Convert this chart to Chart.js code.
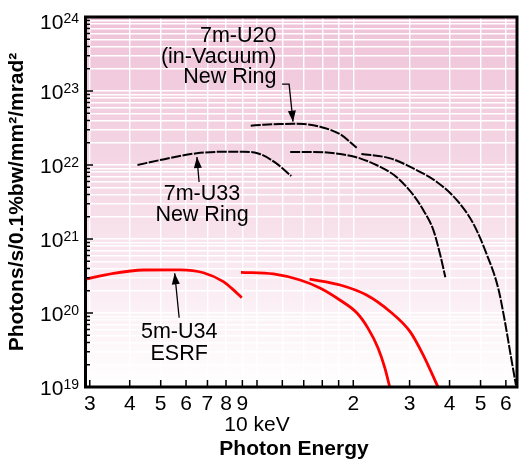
<!DOCTYPE html>
<html><head><meta charset="utf-8">
<script src="https://cdn.jsdelivr.net/npm/chart.js@4.4.1/dist/chart.umd.min.js"></script>
<style>html,body{margin:0;padding:0;background:#fff;overflow:hidden}</style>
</head><body>
<canvas id="c" width="529" height="464"></canvas>
<script>
// ---- axis data ----
const xTickValues = [3,4,5,6,7,8,9,10,12,14,16,18,20,30,40,50,60];
const xTickLabels = ['3','4','5','6','7','8','9','10 keV','','','','','2','3','4','5','6'];
const yExponents = [19,20,21,22,23,24];
const yMinorMultipliers = [1,2,3,4,5,6,7,8,9];
const xTitle = 'Photon Energy';
const yTitle = 'Photons/s/0.1%bw/mm²/mrad²';

// ---- series (keV, photons/s/0.1%bw/mm²/mrad²) ----
const u20aX = [9.56, 10.5, 11.8, 13.0, 14.0, 15.7, 18.2, 20.5];
const u20aY = [3.4e22, 3.5e22, 3.57e22, 3.6e22, 3.57e22, 3.3e22, 2.6e22, 1.71e22];
const u20bX = [21.2, 26.1, 30.8, 36.5, 42.1, 47.4, 52.2, 56.8, 59.6, 62.1, 64.5];
const u20bY = [1.41e22, 1.23e22, 9.0e21, 5.9e21, 3.37e21, 1.63e21, 6.3e20, 2.15e20, 7.6e19, 2.7e19, 1.06e19];
const u33aX = [4.23, 5.09, 6.48, 7.85, 9.06, 10.2, 11.5, 12.8];
const u33aY = [1.0e22, 1.19e22, 1.44e22, 1.51e22, 1.51e22, 1.41e22, 1.05e22, 7.1e21];
const u33bX = [12.7, 15.0, 18.2, 21.0, 25.4, 27.3, 30.8, 33.1, 35.6, 37.3, 38.8];
const u33bY = [1.5e22, 1.5e22, 1.41e22, 1.23e22, 8.5e21, 6.9e21, 3.94e21, 2.46e21, 1.32e21, 6.4e20, 3.05e20];
const u34aX = [2.9, 3.56, 4.41, 5.75, 6.8, 7.85, 8.34, 8.96];
const u34aY = [2.85e20, 3.44e20, 3.81e20, 3.83e20, 3.5e20, 2.65e20, 2.15e20, 1.61e20];
const u34bX = [8.91, 11.25, 13.63, 15.73, 18.15, 20.54, 22.2, 23.9, 25.1, 26.0];
const u34bY = [3.55e20, 3.37e20, 2.79e20, 2.18e20, 1.5e20, 1.0e20, 6.3e19, 3.37e19, 1.81e19, 1.0e19];
const u34cX = [14.6, 18.2, 22.0, 26.1, 30.1, 33.1, 36.8];
const u34cY = [2.88e20, 2.39e20, 1.75e20, 1.04e20, 5.6e19, 2.7e19, 1.0e19];

// ---- annotation texts ----
const u20Text = ['7m-U20', '(in-Vacuum)', 'New Ring'];
const u33Text = ['7m-U33', 'New Ring'];
const u34Text = ['5m-U34', 'ESRF'];

const FONT = '"Liberation Sans", Arial, Helvetica, sans-serif';
Chart.defaults.font.family = FONT;
Chart.defaults.color = '#000';

const pts = (xs, ys) => xs.map((x, i) => ({x, y: ys[i]}));
const yGridValues = [];
yExponents.forEach(e => {
  if (e === yExponents[yExponents.length - 1]) { yGridValues.push(Math.pow(10, e)); return; }
  yMinorMultipliers.forEach(m => yGridValues.push(m * Math.pow(10, e)));
});

const blackStyle = {borderColor: '#000', borderWidth: 2, borderDash: [10, 1.5], pointRadius: 0, showLine: true, cubicInterpolationMode: 'monotone', fill: false};
const redStyle = {borderColor: '#ff0000', borderWidth: 2.8, pointRadius: 0, showLine: true, cubicInterpolationMode: 'monotone', fill: false};

const annotations = [
  {lines: u20Text, x: 11.5, y: 5.5e23, align: 'right', step: 20.5,
   arrow: [[11.98, 1.24e23], [12.6, 1.24e23], [12.96, 3.85e22]]},
  {lines: u33Text, x: 6.73, y: 4.06e21, align: 'center', step: 21,
   arrow: [[6.59, 5.9e21], [6.49, 1.28e22]]},
  {lines: u34Text, x: 5.71, y: 5.53e19, align: 'center', step: 22,
   arrow: [[5.71, 8.63e19], [5.53, 3.44e20]]}
];

const deco = {
  id: 'deco',
  beforeDraw(chart) {
    const {ctx, chartArea: a} = chart;
    ctx.save();
    ctx.fillStyle = '#fff';
    ctx.fillRect(0, 0, chart.width, chart.height);
    const g = ctx.createLinearGradient(0, a.top, 0, a.bottom);
    g.addColorStop(0, 'rgb(239,195,217)');
    g.addColorStop(0.45, 'rgb(245,217,230)');
    g.addColorStop(1, 'rgb(255,255,255)');
    ctx.fillStyle = g;
    ctx.fillRect(a.left, a.top, a.right - a.left, a.bottom - a.top);
    ctx.restore();
  },
  afterDraw(chart) {
    const {ctx, chartArea: a, scales: {x, y}} = chart;
    ctx.save();
    // ticks inside
    ctx.strokeStyle = '#000';
    ctx.lineWidth = 1.5;
    ctx.beginPath();
    xTickValues.forEach(v => {
      const px = x.getPixelForValue(v);
      ctx.moveTo(px, a.bottom); ctx.lineTo(px, a.bottom - 7);
    });
    yGridValues.forEach(v => {
      const py = y.getPixelForValue(v);
      const major = Math.abs(Math.log10(v) - Math.round(Math.log10(v))) < 1e-9;
      ctx.moveTo(a.left, py); ctx.lineTo(a.left + (major ? 7 : 4), py);
    });
    ctx.stroke();
    // frame
    ctx.lineWidth = 3;
    ctx.strokeRect(a.left - 0.5, a.top, a.right - a.left + 0.5, a.bottom - a.top);
    // y labels
    ctx.fillStyle = '#000';
    ctx.textBaseline = 'alphabetic';
    ctx.textAlign = 'right';
    yExponents.forEach(e => {
      let py = y.getPixelForValue(Math.pow(10, e));
      py = Math.max(py, a.top + 4);
      const sup = String(e);
      ctx.font = '14px ' + FONT;
      const sw = ctx.measureText(sup).width;
      const rx = a.left - 7;
      ctx.fillText(sup, rx, py + 2);
      ctx.font = '21px ' + FONT;
      ctx.fillText('10', rx - sw, py + 8);
    });
    // x title
    ctx.font = 'bold 21px ' + FONT;
    ctx.textAlign = 'center';
    ctx.textBaseline = 'middle';
    ctx.fillText(xTitle, x.getPixelForValue(13.05), a.bottom + 62);
    // annotations
    ctx.font = '21.5px ' + FONT;
    annotations.forEach(an => {
      const px = x.getPixelForValue(an.x);
      const py = y.getPixelForValue(an.y);
      ctx.textAlign = an.align;
      an.lines.forEach((t, i) => ctx.fillText(t, px, py + i * an.step));
      const p = an.arrow.map(q => [x.getPixelForValue(q[0]), y.getPixelForValue(q[1])]);
      ctx.lineWidth = 1.3;
      ctx.beginPath();
      ctx.moveTo(p[0][0], p[0][1]);
      for (let i = 1; i < p.length; i++) ctx.lineTo(p[i][0], p[i][1]);
      ctx.stroke();
      const tip = p[p.length - 1], prev = p[p.length - 2];
      const ang = Math.atan2(tip[1] - prev[1], tip[0] - prev[0]);
      const L = 11, W = 4;
      ctx.beginPath();
      ctx.moveTo(tip[0], tip[1]);
      ctx.lineTo(tip[0] - L * Math.cos(ang) + W * Math.sin(ang), tip[1] - L * Math.sin(ang) - W * Math.cos(ang));
      ctx.lineTo(tip[0] - L * Math.cos(ang) - W * Math.sin(ang), tip[1] - L * Math.sin(ang) + W * Math.cos(ang));
      ctx.closePath();
      ctx.fill();
    });
    ctx.restore();
  }
};

new Chart(document.getElementById('c'), {
  type: 'scatter',
  data: {
    datasets: [
      {label: '7m-U20 New Ring (1)', data: pts(u20aX, u20aY), ...blackStyle},
      {label: '7m-U20 New Ring (2)', data: pts(u20bX, u20bY), ...blackStyle},
      {label: '7m-U33 New Ring (1)', data: pts(u33aX, u33aY), ...blackStyle},
      {label: '7m-U33 New Ring (2)', data: pts(u33bX, u33bY), ...blackStyle},
      {label: '5m-U34 ESRF (1)', data: pts(u34aX, u34aY), ...redStyle},
      {label: '5m-U34 ESRF (2)', data: pts(u34bX, u34bY), ...redStyle},
      {label: '5m-U34 ESRF (3)', data: pts(u34cX, u34cY), ...redStyle}
    ]
  },
  options: {
    responsive: false,
    animation: false,
    events: [],
    layout: {padding: {top: 17, right: 12, left: 0, bottom: 0}, autoPadding: false},
    plugins: {legend: {display: false}, tooltip: {enabled: false}},
    scales: {
      x: {
        type: 'logarithmic', min: 2.92, max: 65,
        afterBuildTicks: s => { s.ticks = xTickValues.map(v => ({value: v})); },
        afterFit: s => { s.height = 77; },
        ticks: {
          autoSkip: false, maxRotation: 0, minRotation: 0, padding: 7, color: '#000',
          font: {size: 21, lineHeight: 1.0},
          callback: (v, i) => { const t = xTickLabels[i]; return t.indexOf(' ') >= 0 ? ['', t] : t; }
        },
        grid: {color: '#fff', lineWidth: 1.4, drawTicks: false},
        border: {display: false}
      },
      y: {
        type: 'logarithmic', min: 1e19, max: 1e24,
        afterBuildTicks: s => { s.ticks = yGridValues.map(v => ({value: v})); },
        afterFit: s => { s.width = 86; },
        ticks: {display: false},
        grid: {color: '#fff', lineWidth: 1.4, drawTicks: false},
        border: {display: false},
        title: {display: true, text: yTitle, color: '#000', font: {size: 21, weight: 'bold', lineHeight: 1.2}, padding: {top: 5, bottom: 0}}
      }
    }
  },
  plugins: [deco]
});
</script>
</body></html>
